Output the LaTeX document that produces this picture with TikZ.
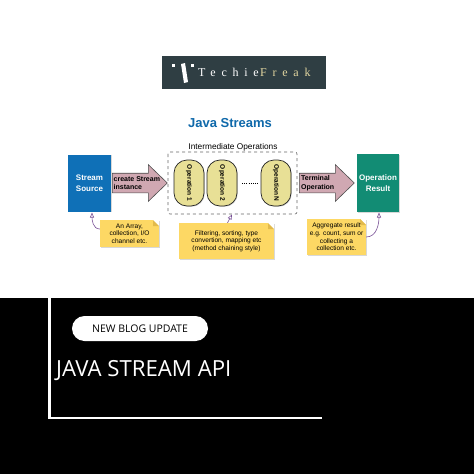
\documentclass[tikz,border=0pt]{standalone}
\usepackage{fontspec}
\setmainfont{Liberation Sans}
\newfontfamily\bannerfont{Open Sans}
\newfontfamily\logofont[LetterSpace=48]{Liberation Serif}
\usetikzlibrary{shapes.arrows, arrows.meta, shadows, calc}
\definecolor{myblue}{RGB}{15,112,183}
\definecolor{mygreen}{RGB}{18,140,116}
\definecolor{myrose}{RGB}{208,168,178}
\definecolor{myolive}{RGB}{232,224,150}
\definecolor{mynote}{RGB}{253,216,100}
\definecolor{myfold}{RGB}{226,186,76}
\definecolor{mypurple}{RGB}{120,80,150}
\definecolor{mylogo}{RGB}{47,62,67}
\definecolor{mytan}{RGB}{226,214,160}
\definecolor{mytitle}{RGB}{15,105,170}
\tikzset{
  softshadow/.style={drop shadow={opacity=0.3, shadow xshift=0.8pt, shadow yshift=-0.8pt}},
  endblock/.style={rectangle, text=white, align=center, font=\fontsize{8}{10.5}\selectfont\bfseries,
    inner sep=0pt, softshadow},
  bigarrow/.style={single arrow, draw=black!70, fill=myrose, line width=0.6pt, inner sep=0pt,
    text height=19pt, text width=0pt, single arrow head extend=8.5pt, single arrow tip angle=88,
    minimum width=36pt, minimum height=55pt, anchor=tail},
  arrowtext/.style={anchor=west, align=left, inner sep=0pt, font=\fontsize{7}{8.8}\selectfont\bfseries},
  opnode/.style={rectangle, draw=black!85, fill=myolive, rotate=-90, rounded corners=13pt,
    minimum width=46pt, minimum height=30pt, inner sep=0pt, line width=0.7pt,
    font=\fontsize{6.5}{7}\selectfont\bfseries, softshadow},
  noteblock/.style={rectangle, fill=mynote, align=center, inner sep=0pt, softshadow,
    font=\fontsize{6.6}{7.7}\selectfont,
    path picture={
      \fill[white] ($(path picture bounding box.north east)+(-6pt,0pt)$) --
        (path picture bounding box.north east) -- ++(0pt,-6pt) -- cycle;
      \fill[myfold] ($(path picture bounding box.north east)+(-6pt,0pt)$) --
        ++(0pt,-6pt) -- ++(6pt,0pt) -- cycle;}},
  callout/.style={-{Triangle[open, length=5pt, width=4pt]}, color=mypurple, line width=0.6pt}
}
\begin{document}
\begin{tikzpicture}[x=1pt, y=-1pt]
  \useasboundingbox (0,0) rectangle (474,474);
  \fill[white] (0,0) rectangle (474,298);

  % Logo
  \fill[mylogo] (162,56) rectangle (326,89);
  \fill[white] (181,64) -- (185,63) -- (188,82) -- (184,83) -- cycle;
  \fill[white] (172,64) rectangle (175,67);
  \fill[white] (191,64) rectangle (194,67);
  \node[anchor=west, inner sep=0pt, text=white, font=\logofont\fontsize{12}{12}\selectfont] (techie) at (198,72) {Techie};
  \node[anchor=west, inner sep=0pt, text=mytan, font=\logofont\fontsize{12}{12}\selectfont] (freak) at (260,72) {Freak};

  % Title
  \node[text=mytitle, font=\fontsize{13}{16}\selectfont\bfseries] (title) at (230,123) {Java Streams};
  \node[font=\fontsize{8.3}{10}\selectfont] (inter) at (233,147) {Intermediate Operations};
  \draw[dashed, draw=black!60, rounded corners=2pt, line width=0.6pt] (168,152) rectangle (297,214);

  % Nodes
  \node[endblock, fill=myblue, minimum width=43pt, minimum height=57pt] (source) at (89.5,183) {Stream\\Source};
  \node[endblock, fill=mygreen, minimum width=42pt, minimum height=58pt] (result) at (378,183) {Operation\\Result};
  \node[bigarrow] (create) at (112,183) {};
  \node[bigarrow] (terminal) at (299,183) {};
  \node[arrowtext] (createtext) at (113.5,183) {create Stream\\instance};
  \node[arrowtext] (terminaltext) at (301,183) {Terminal\\Operation};
  \node[opnode] (op1) at (189,183) {Operation 1};
  \node[opnode] (op2) at (222,183) {Operation 2};
  \node[opnode] (opn) at (276,183) {Operation N};

  % Dots between operations
  \coordinate (dots1) at (242,183);
  \coordinate (dots2) at (259,183);
  \draw[line width=0.8pt, dash pattern=on 1pt off 1.2pt] (dots1) -- (dots2);

  % Notes
  \node[noteblock, minimum width=59pt, minimum height=27pt] (note1) at (129.5,233.5) {An Array,\\collection, I/O\\channel etc.};
  \node[noteblock, minimum width=95pt, minimum height=36pt] (note2) at (226.5,241) {Filtering, sorting, type\\convertion, mapping etc\\(method chaining style)};
  \node[noteblock, minimum width=59pt, minimum height=36pt] (note3) at (336.5,237) {Aggregate result\\e.g. count, sum or\\collecting a\\collection etc.};

  % Note callouts
  \coordinate (tip1) at (92,212.5);
  \coordinate (tip2) at (232,214.5);
  \coordinate (tip3) at (379,212.5);
  \draw[callout] ($(note1.west)+(0,-4.5)$) to[out=180, in=270] (tip1);
  \draw[callout] ($(note2.north)+(1,0)$) -- (tip2);
  \draw[callout] (note3.east) to[out=0, in=270] (tip3);

  % Banner
  \fill[black] (0,298) rectangle (474,474);
  \coordinate (bartop) at (49.5,298);
  \coordinate (barcorner) at (49.5,418);
  \coordinate (barend) at (322,418);
  \draw[white, line width=2.2pt] (bartop) -- (barcorner) -- (barend);
  \node[rectangle, fill=white, rounded corners=12.5pt, minimum width=136pt, minimum height=25pt, inner sep=0pt,
    font=\bannerfont\fontsize{10.5}{12}\selectfont] (update) at (140,328.5) {NEW BLOG UPDATE};
  \node[anchor=west, inner sep=0pt, text=white, font=\bannerfont\fontsize{22.2}{26}\selectfont] (api) at (56,370.5) {JAVA STREAM API};
\end{tikzpicture}
\end{document}
